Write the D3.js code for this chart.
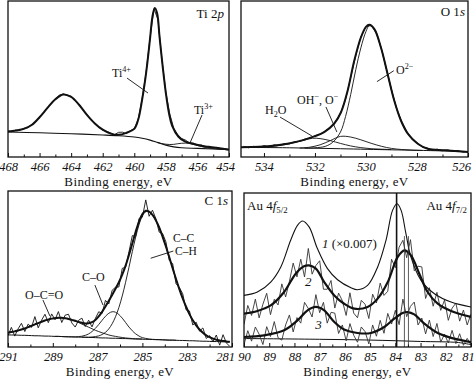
<!DOCTYPE html>
<html>
<head>
<meta charset="utf-8">
<script src="https://cdn.jsdelivr.net/npm/d3@7"></script>
<style>
  body { margin: 0; background: #fff; }
  text { font-family: "Liberation Serif", "Times New Roman", serif; fill: #111; }
</style>
</head>
<body>
<div id="chart"></div>
<script>
// ---------- Ti 2p ----------
// measured spectrum, 468 -> 454 eV every 0.25 eV
var tiStart = 468, tiStep = 0.25;
var tiData = [16.6,16.2,17.3,17.1,18.4,18.8,20.9,22.5,25.9,28.2,31.8,34.1,37.4,39.6,40.5,39.3,39.0,36.0,33.9,30.0,
              27.3,23.8,21.8,19.0,17.2,16.4,15.5,14.3,15.8,15.9,15.0,16.9,18.2,24.3,37.5,54.5,76.5,95.0,88.0,62.5,
              41.5,27.5,18.5,14.4,11.8,10.8,9.0,8.9,7.6,7.7,6.6,6.9,5.9,6.2,5.3,5.3,4.9];
var tiFitE = [468,467.5,467,466.5,466,465.5,465,464.5,464,463.5,463,462.5,462,461.5,461,460.5,460,459.75,459.5,459.25,
              459,458.85,458.7,458.55,458.4,458.2,458,457.8,457.6,457.2,456.8,456.3,455.5,454.6,454];
var tiFit  = [16.3,17.0,18.0,20.5,25.5,31.5,37.0,40.0,38.5,33.5,27.0,21.5,17.5,15.0,14.2,15.5,18.0,24.0,37.0,54.0,
              76.0,90.0,95.5,92.0,77.0,58.0,41.0,28.0,20.0,13.0,10.0,8.5,6.8,5.6,4.7];
var tiBaseE = [468,466,464,462,461,460,459.5,459,458.5,458,457.5,457,456,455,454];
var tiBase  = [16.0,15.5,14.9,14.1,13.6,12.8,12.0,10.8,9.2,7.6,6.5,5.9,5.5,5.1,4.7];
var tiT3E = [458.5,458.25,458,457.75,457.5,457.25,457,456.75,456.5,456.25,456,455.75,455.5,455.25,455,454.5];
var tiT3  = [9.2,8.6,8.2,8.0,8.1,8.5,8.8,8.9,8.7,8.1,7.4,6.7,6.1,5.7,5.4,4.95];
var tiTicks = [468,466,464,462,460,458,456,454];
var tiMinor = [467,465,463,461,459,457,455];

// ---------- O 1s ----------
var oStart = 534.8, oStep = 0.2;
var oData = [6.8,5.9,6.9,6.0,7.3,6.5,7.8,7.3,8.6,8.4,9.9,10.0,11.5,12.0,13.6,14.6,16.6,18.8,22.7,28.0,
             37.0,51.0,65.0,77.0,83.6,84.4,79.5,69.8,56.5,43.2,31.3,22.7,16.3,11.5,9.2,6.5,5.8,4.5,5.0,4.0,
             4.6,3.6,4.2,3.1,3.6];
var oFitE = [534.9,534.5,533.74,533.08,532.43,532.03,531.64,531.25,530.98,530.72,530.46,530.2,530.0,529.87,
             529.67,529.41,529.15,528.89,528.63,528.36,527.97,527.58,526.92,526.0];
var oFit  = [6.3,6.4,7.0,8.5,11.0,13.2,16.0,21.3,28.7,42.5,61.7,76.6,83.4,84.7,82.0,70.0,53.0,36.0,23.4,15.0,
             8.5,5.3,4.3,3.2];
var oBaseE = [534.9,533,531,529,528,526];
var oBase  = [6.2,5.9,5.3,4.6,4.3,3.5];
var oH2OE = [534.4,534.0,533.6,533.2,532.8,532.4,532.1,531.8,531.4,531.0,530.6,530.2,529.8,529.4,529.0];
var oH2O  = [6.2,6.4,6.9,7.9,9.3,10.9,12.0,11.8,10.5,8.7,7.1,6.0,5.3,5.0,4.75];
var oOHE = [532.6,532.2,531.8,531.4,531.0,530.6,530.2,529.8,529.4,529.0,528.6,528.2,527.8];
var oOH  = [5.7,6.3,7.8,10.5,13.2,12.8,11.0,8.8,6.9,5.5,4.8,4.4,4.2];
var oO2E = [532.4,532.0,531.6,531.3,531.0,530.8,530.6,530.4,530.2,530.0,529.87,529.67,529.41,529.15,528.89,
            528.63,528.36,527.97,527.58,527.2,526.8];
var oO2  = [5.6,5.9,6.8,9.5,16,26,40,56,70,80.5,84.2,82,70,53,36,23.4,15,8.5,5.3,4.6,4.1];
var oTicks = [534,532,530,528,526];
var oMinor = [533,531,529,527];

// ---------- C 1s ----------
var cStart = 291, cStep = 0.15;
var cData = [7.2,12.6,7.0,11.6,15.2,9.9,14.7,12.6,19.5,12.3,17.2,21.0,15.6,21.2,17.5,22.7,15.7,20.4,21.0,15.4,
             12.8,17.1,18.5,13.1,17.2,12.9,18.3,22.6,21.5,29.9,27.6,36.4,38.3,38.5,50.4,51.2,61.0,71.4,70.9,82.4,
             83.2,94.3,83.8,87.7,82.3,73.6,72.8,67.4,55.5,53.5,40.6,38.1,34.1,23.8,23.1,14.1,15.9,10.2,12.2,5.5,
             7.3,3.4,7.7,1.2,7.9,2.6,0.4];
var cFit = [9.2,9.6,10.0,10.6,11.2,11.9,12.7,13.6,14.5,15.3,16.2,17.0,17.6,18.2,18.5,18.7,18.7,18.4,18.0,17.4,
            16.8,16.1,15.5,15.1,15.2,15.9,17.3,19.6,22.5,25.9,29.6,33.4,37.3,41.5,46.4,52.2,59.0,66.4,73.9,80.4,
            85.2,87.3,86.8,84.7,81.3,76.6,70.8,64.4,57.5,50.5,43.6,37.1,31.1,25.8,21.1,17.1,13.9,11.2,9.2,7.5,
            6.3,5.4,4.7,4.2,3.9,3.6,3.4];
var cBase = [7.8,7.7,7.7,7.6,7.5,7.5,7.4,7.3,7.2,7.2,7.1,7.0,7.0,6.9,6.8,6.8,6.7,6.6,6.5,6.5,
             6.4,6.3,6.3,6.2,6.1,6.1,6.0,5.9,5.8,5.8,5.7,5.6,5.6,5.5,5.4,5.4,5.3,5.2,5.1,5.1,
             5.0,4.9,4.9,4.8,4.7,4.7,4.6,4.5,4.4,4.4,4.3,4.2,4.2,4.1,4.0,4.0,3.9,3.8,3.7,3.7,
             3.6,3.5,3.5,3.4,3.3,3.3,3.2];
// components, null where not drawn
var cOCO = [9.2,9.6,10.0,10.6,11.2,11.9,12.7,13.6,14.5,15.3,16.2,17.0,17.6,18.2,18.5,18.7,18.7,18.4,18.0,17.4,
            16.6,15.7,14.7,13.7,12.7,11.7,10.7,9.9,9.1,8.4,7.7,7.2,6.8,6.4,6.1,5.8,5.6,5.4,5.3,5.2,5.1];
var cCO = [null,null,null,null,null,null,null,null,null,null,null,null,null,null,6.8,6.8,6.7,6.6,6.6,6.5,
           6.5,6.7,6.9,7.5,8.4,9.9,11.9,14.4,17.1,19.7,21.6,22.6,22.3,20.8,18.5,15.7,12.8,10.4,8.4,7.0,
           6.0,5.5,5.1,4.9,4.8,4.7,4.6,4.5,4.4,4.4,4.3];
var cCC = [null,null,null,null,null,null,null,null,null,null,null,null,null,null,null,null,null,null,null,null,
           null,null,6.3,6.3,6.3,6.4,6.7,7.1,8.0,9.4,11.6,14.9,19.4,25.3,32.7,41.5,51.1,61.1,70.5,78.4,
           84.1,86.7,86.5,84.6,81.2,76.6,70.8,64.4,57.5,50.5,43.6,37.1,31.1,25.8,21.1,17.1,13.9,11.2,9.2,7.5,
           6.3,5.4,4.7,4.2,3.9,3.6,3.4];
var cTicks = [291,289,287,285,283,281];
var cMinor = [290,288,286,284,282];

// ---------- Au 4f ----------
var auStart = 90, auStep = 0.15;
var auData2 = [14.6,27.0,20.5,31.1,18.9,27.8,34.9,21.0,31.0,27.3,41.0,32.5,42.5,54.5,45.5,57.0,45.5,64.0,47.3,52.9,
               56.0,37.5,37.5,43.2,25.3,35.0,30.0,20.5,35.2,22.0,19.0,30.3,27.8,18.5,34.3,28.6,41.5,33.5,36.2,57.0,
               51.5,64.8,69.3,58.0,69.7,49.5,52.5,52.0,31.5,38.5,26.5,35.5,23.8,30.5,17.3,25.2,28.5,16.8,24.0,14.3,21.5];
var auData3 = [1.5,10.6,3.8,13.0,8.3,1.6,13.2,6.8,16.5,6.0,4.5,14.3,20.8,9.8,19.1,15.5,29.0,25.0,19.5,34.0,
               22.3,29.0,15.5,22.5,22.0,8.8,14.3,4.0,15.2,7.6,3.1,13.0,10.0,2.0,14.3,7.0,17.3,8.9,21.8,14.9,
               23.8,14.5,31.1,19.7,26.4,29.2,14.3,18.8,8.5,17.5,6.8,15.3,3.2,8.3,2.6,10.8,2.2,8.6,1.1,5.6,1.2];
var au1E = [90,89.47,88.94,88.54,88.15,87.88,87.68,87.42,87.09,86.69,86.29,85.76,85.5,85.1,84.7,84.37,84.11,
            83.93,83.77,83.58,83.38,82.98,82.45,81.79,81];
var au1  = [33.5,35.7,42.2,52,69.3,79,81.8,78,63.9,50.9,43.7,38.5,37.2,40,52,69.3,88.7,93,88.7,73.6,58.4,
            43.3,34.6,29.2,26];
var au2E = [90,89.47,88.94,88.41,87.95,87.62,87.42,87.15,86.82,86.42,86.03,85.63,85.1,84.7,84.3,83.91,83.64,
            83.38,83.05,82.72,82.32,81.79,81];
var au2  = [21.6,23.4,27,35.7,47.6,52.4,53,50.9,42.2,33.5,28.1,24.9,26,31.4,42.2,58.4,62.8,59.5,47.6,35.7,
            28.1,23.4,19.5];
var au3E = [90,89.21,88.41,87.88,87.48,87.15,86.82,86.42,86.03,85.5,84.97,84.44,84.04,83.71,83.51,83.25,82.85,
            82.32,81.66,81];
var au3  = [6.5,7.6,10.8,17.3,23.8,26,23.8,16.2,11.3,9.1,9.1,13,18.4,22.1,22.7,21.2,15.2,9.1,5.4,3.2];
var auBaseE = [90,87,85,83,81.5,81];
var auBase  = [5.5,5.0,4.5,3.6,2.9,1.5];
var auLine = 83.95;            // metallic Au 4f7/2 position
var auMarks = [83.64, 83.48];
var auTicks = [90,89,88,87,86,85,84,83,82,81];
var auMinor = [89.5,88.5,87.5,86.5,85.5,84.5,83.5,82.5,81.5];

// ---------- drawing ----------
var width = 474, height = 380;

var svg = d3.select("#chart")
  .append("svg")
    .attr("width", width)
    .attr("height", height);

function grid(start, step, n) {
  return d3.range(n).map(function(i) { return +(start - i * step).toFixed(3); });
}

function makePanel(p, id) {
  p.x = d3.scaleLinear().domain(p.domain).range([p.left, p.right]);
  p.y = d3.scaleLinear().domain([0, 100]).range([p.bottom, p.top]);
  p.g = svg.append("g");

  p.g.append("clipPath").attr("id", "clip-" + id)
    .append("rect")
      .attr("x", p.left).attr("y", p.top)
      .attr("width", p.right - p.left).attr("height", p.bottom - p.top);
  p.plot = p.g.append("g").attr("clip-path", "url(#clip-" + id + ")");

  // minor ticks
  p.g.append("g")
      .attr("transform", "translate(0," + p.bottom + ")")
      .call(d3.axisBottom(p.x).tickValues(p.minor).tickSize(-2.5).tickFormat(""));
  // major ticks with labels
  var ax = p.g.append("g")
      .attr("transform", "translate(0," + p.bottom + ")")
      .call(d3.axisBottom(p.x).tickValues(p.major).tickSize(-4).tickPadding(5).tickFormat(d3.format("d")));
  p.g.selectAll(".domain").remove();
  p.g.selectAll(".tick line").attr("stroke", "#111").attr("stroke-width", 1);
  ax.selectAll("text")
    .attr("font-family", "'Liberation Serif', serif")
    .attr("font-style", "italic")
    .attr("font-size", 12.5)
    .attr("fill", "#111");
  // last label is pulled in from the corner
  var last = p.major[p.major.length - 1];
  ax.selectAll(".tick text").filter(function(d) { return d === last; }).attr("dx", p.lastDx);

  // frame
  p.g.append("rect")
    .attr("x", p.left).attr("y", p.top)
    .attr("width", p.right - p.left).attr("height", p.bottom - p.top)
    .attr("fill", "none").attr("stroke", "#111").attr("stroke-width", 1.3);

  // axis title
  p.g.append("text")
    .attr("x", (p.left + p.right) / 2)
    .attr("y", p.bottom + 29)
    .attr("text-anchor", "middle")
    .attr("font-size", 13)
    .attr("letter-spacing", 0.4)
    .text("Binding energy, eV");
  return p;
}

function drawLine(p, xs, ys, w, curve, color) {
  var pts = xs.map(function(e, i) { return [e, ys[i]]; });
  var line = d3.line()
    .defined(function(d) { return d[1] != null; })
    .x(function(d) { return p.x(d[0]); })
    .y(function(d) { return p.y(d[1]); })
    .curve(curve || d3.curveLinear);
  p.plot.append("path")
    .datum(pts)
    .attr("d", line)
    .attr("fill", "none")
    .attr("stroke", color || "#111")
    .attr("stroke-width", w)
    .attr("stroke-linejoin", "round");
}

// label with pieces: [text, flags] flags may hold "sup", "sub", "i"
function label(p, e, v, parts, size, anchor) {
  var t = p.g.append("text")
    .attr("x", p.x(e)).attr("y", p.y(v))
    .attr("font-size", size || 12)
    .attr("text-anchor", anchor || "start");
  var shift = 0;
  parts.forEach(function(s) {
    var f = s[1] || "";
    var want = f.indexOf("sup") >= 0 ? -5 : (f.indexOf("sub") >= 0 ? 3 : 0);
    var ts = t.append("tspan").text(s[0]).attr("dy", want - shift);
    if (want != 0) ts.attr("font-size", (size || 12) * 0.68);
    if (f.indexOf("i") >= 0) ts.attr("font-style", "italic");
    shift = want;
  });
}

function pointer(p, e1, v1, e2, v2) {
  p.g.append("line")
    .attr("x1", p.x(e1)).attr("y1", p.y(v1))
    .attr("x2", p.x(e2)).attr("y2", p.y(v2))
    .attr("stroke", "#111").attr("stroke-width", 0.9);
}

var cr = d3.curveCatmullRom.alpha(0.5);

// Ti 2p
var ti = makePanel({left: 8, right: 229, top: 1, bottom: 157, domain: [468, 454],
                    major: tiTicks, minor: tiMinor, lastDx: -4}, "ti");
drawLine(ti, tiBaseE, tiBase, 1.1, cr);
drawLine(ti, tiT3E, tiT3, 0.9, cr);
drawLine(ti, grid(tiStart, tiStep, tiData.length), tiData, 0.9);
drawLine(ti, tiFitE, tiFit, 2, cr);
label(ti, 454.32, 89.1, [["Ti 2"], ["p", "i"]], 13, "end");
label(ti, 461.41, 51.3, [["Ti"], ["4+", "sup"]]);
pointer(ti, 460.46, 50.6, 459.13, 41.0);
label(ti, 456.22, 27.6, [["Ti"], ["3+", "sup"]]);
pointer(ti, 455.71, 26.9, 456.47, 9.0);

// O 1s
var ox = makePanel({left: 241, right: 468, top: 1, bottom: 157, domain: [534.9, 526],
                    major: oTicks, minor: oMinor, lastDx: -7}, "o");
drawLine(ox, oBaseE, oBase, 1, cr);
drawLine(ox, oH2OE, oH2O, 0.9, cr);
drawLine(ox, oOHE, oOH, 0.9, cr);
drawLine(ox, oO2E, oO2, 0.9, cr);
drawLine(ox, grid(oStart, oStep, oData.length), oData, 0.9);
drawLine(ox, oFitE, oFit, 2, cr);
label(ox, 526.12, 90.4, [["O 1"], ["s", "i"]], 13, "end");
label(ox, 528.82, 53.2, [["O"], ["2\u2212", "sup"]]);
pointer(ox, 528.91, 55.3, 529.57, 48.3);
label(ox, 532.7, 34, [["OH"], ["\u2212", "sup"], [", O"], ["\u2212", "sup"]]);
pointer(ox, 531.57, 32.1, 531.14, 16.0);
label(ox, 533.96, 27.6, [["H"], ["2", "sub"], ["O"]]);
pointer(ox, 533.37, 25.6, 532.12, 13.5);

// C 1s
var cx = makePanel({left: 8, right: 232, top: 191, bottom: 347, domain: [291, 281],
                    major: cTicks, minor: cMinor, lastDx: -7}, "c");
var cE = grid(cStart, cStep, cData.length);
drawLine(cx, cE, cBase, 1);
drawLine(cx, cE, cOCO, 0.9, cr);
drawLine(cx, cE, cCO, 0.9, cr);
drawLine(cx, cE, cCC, 0.9, cr);
drawLine(cx, cE, cData, 0.9);
drawLine(cx, cE, cFit, 2, cr);
label(cx, 281.18, 91, [["C 1"], ["s", "i"]], 13, "end");
label(cx, 283.63, 67.6, [["C\u2013C"]], 11.5);
label(cx, 283.54, 58.8, [["C\u2013H"]], 11.5);
pointer(cx, 283.62, 61.5, 284.63, 56.9);
label(cx, 287.70, 42.3, [["C\u2013O"]]);
pointer(cx, 287.12, 39.7, 286.76, 26.9);
label(cx, 290.24, 30.8, [["O\u2013C=O"]]);
pointer(cx, 289.44, 30.1, 289.13, 19.9);

// Au 4f
var au = makePanel({left: 244, right: 471, top: 193, bottom: 347, domain: [90, 81],
                    major: auTicks, minor: auMinor, lastDx: -3}, "au");
var auE = grid(auStart, auStep, auData2.length);
drawLine(au, auBaseE, auBase, 1, cr);
drawLine(au, auE, auData3, 0.9, d3.curveLinear, "#333");
drawLine(au, auE, auData2, 0.9, d3.curveLinear, "#333");
drawLine(au, au1E, au1, 1.1, cr);
drawLine(au, au2E, au2, 2.2, cr);
drawLine(au, au3E, au3, 2.2, cr);
au.plot.append("line")
  .attr("x1", au.x(auLine)).attr("x2", au.x(auLine))
  .attr("y1", au.y(0)).attr("y2", au.y(100))
  .attr("stroke", "#111").attr("stroke-width", 1.6);
au.plot.selectAll(".mark").data(auMarks).enter().append("line")
  .attr("x1", function(d) { return au.x(d); }).attr("x2", function(d) { return au.x(d); })
  .attr("y1", au.y(0)).attr("y2", au.y(72))
  .attr("stroke", "#333").attr("stroke-width", 0.8);
label(au, 89.88, 89, [["Au 4"], ["f", "i"], ["5/2", "sub"]], 13);
label(au, 81.16, 89, [["Au 4"], ["f", "i"], ["7/2", "sub"]], 13, "end");
label(au, 86.91, 64.3, [["1", "i"], [" (\u00d70.007)"]], 13);
label(au, 87.58, 39.6, [["2", "i"]], 13);
label(au, 87.18, 11.7, [["3", "i"]], 13);
</script>
</body>
</html>
